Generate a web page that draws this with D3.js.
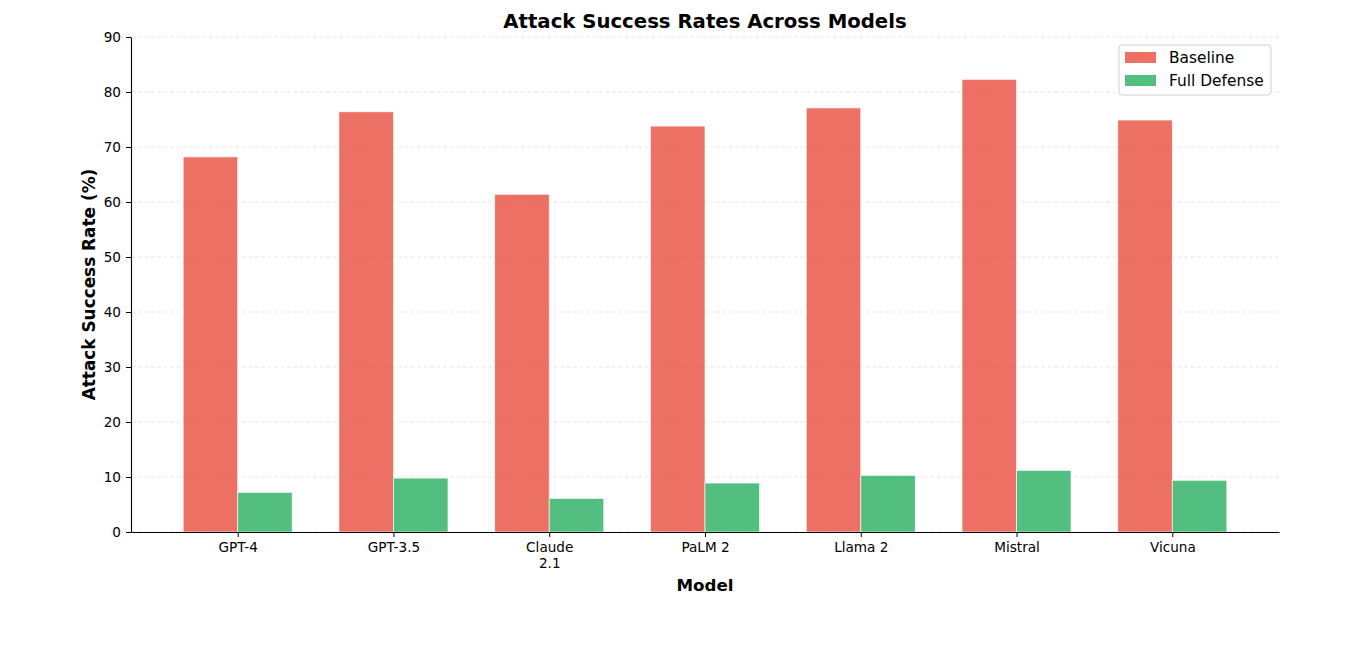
<!DOCTYPE html>
<html>
<head>
<meta charset="utf-8">
<script src="https://cdn.jsdelivr.net/npm/d3@7"></script>
<style>
  body { margin: 0; background: #fff; }
  text { font-family: "DejaVu Sans", sans-serif; }
</style>
</head>
<body>
<div id="chart-area"></div>
<script>
// values
var models = ["GPT-4", "GPT-3.5", "Claude\n2.1", "PaLM 2", "Llama 2", "Mistral", "Vicuna"];
var baseline = [68.2, 76.4, 61.4, 73.8, 77.1, 82.3, 74.9];
var fullDefense = [7.2, 9.8, 6.1, 8.9, 10.3, 11.2, 9.4];
var yTicks = [0, 10, 20, 30, 40, 50, 60, 70, 80, 90];
var seriesNames = ["Baseline", "Full Defense"];
var seriesColors = ["#E74C3C", "#27AE60"];

var W = 1368, H = 647;
var margin = { top: 37, right: 89, bottom: 115, left: 131 };
var width = W - margin.left - margin.right;
var height = H - margin.top - margin.bottom;
var barW = 0.35;

var svg = d3.select("#chart-area").append("svg")
    .attr("width", W)
    .attr("height", H);

var g = svg.append("g")
    .attr("transform", "translate(" + margin.left + "," + margin.top + ")");

// x scale (matplotlib style numeric positions with 5% margins)
var lo = -barW, hi = models.length - 1 + barW;
var pad = (hi - lo) * 0.05;
var x = d3.scaleLinear().domain([lo - pad, hi + pad]).range([0, width]);

// y scale
var y = d3.scaleLinear().domain([0, 90]).range([height, 0]);

// grid
g.append("g").selectAll("line").data(yTicks).enter()
    .append("line")
    .attr("x1", 0).attr("x2", width)
    .attr("y1", function (d) { return y(d); })
    .attr("y2", function (d) { return y(d); })
    .attr("stroke", "#b0b0b0")
    .attr("stroke-opacity", 0.3)
    .attr("stroke-dasharray", "4,2.5")
    .attr("stroke-width", 1);

// bars
var series = [baseline, fullDefense];
series.forEach(function (vals, s) {
    g.append("g").selectAll("rect").data(vals).enter()
        .append("rect")
        .attr("x", function (d, i) { return x(i - barW + s * barW); })
        .attr("y", function (d) { return y(d); })
        .attr("width", x(barW) - x(0))
        .attr("height", function (d) { return height - y(d); })
        .attr("fill", seriesColors[s])
        .attr("fill-opacity", 0.8)
        .attr("stroke", "#fff")
        .attr("stroke-opacity", 0.8)
        .attr("stroke-width", 0.8);
});

// y axis
var yAxisGroup = g.append("g").call(
    d3.axisLeft(y).tickValues(yTicks).tickSize(5).tickSizeOuter(0).tickPadding(5));
yAxisGroup.selectAll("text").style("font-size", "13.6px").attr("fill", "#000");
yAxisGroup.select(".domain").attr("stroke", "#000").attr("stroke-width", 1.1);

// x axis
var xAxisGroup = g.append("g")
    .attr("transform", "translate(0," + height + ")")
    .call(d3.axisBottom(x)
        .tickValues(d3.range(models.length))
        .tickSize(5).tickSizeOuter(0).tickPadding(5)
        .tickFormat(function (i) { return models[i]; }));
xAxisGroup.select(".domain").attr("stroke", "#000").attr("stroke-width", 1.1);
xAxisGroup.selectAll("text")
    .style("font-size", "13.6px")
    .attr("fill", "#000")
    .each(function (i) {
        var t = d3.select(this);
        var lines = models[i].split("\n");
        t.text(null);
        lines.forEach(function (ln, k) {
            t.append("tspan").attr("x", 0).attr("dy", k === 0 ? "0.71em" : "1.17em").text(ln);
        });
    });

// title and labels
svg.append("text")
    .attr("x", margin.left + width / 2).attr("y", 28)
    .attr("text-anchor", "middle")
    .style("font-size", "19.7px").style("font-weight", "bold")
    .text("Attack Success Rates Across Models");

svg.append("text")
    .attr("x", margin.left + width / 2).attr("y", 591)
    .attr("text-anchor", "middle")
    .style("font-size", "16.7px").style("font-weight", "bold")
    .text("Model");

svg.append("text")
    .attr("transform", "translate(95," + (margin.top + height / 2) + ") rotate(-90)")
    .attr("text-anchor", "middle")
    .style("font-size", "16.9px").style("font-weight", "bold")
    .text("Attack Success Rate (%)");

// legend
var legend = svg.append("g").attr("transform", "translate(1119,45)");
legend.append("rect")
    .attr("width", 152).attr("height", 50)
    .attr("rx", 3)
    .attr("fill", "#fff").attr("fill-opacity", 0.8)
    .attr("stroke", "#d0d0d0");
seriesNames.forEach(function (name, s) {
    legend.append("rect")
        .attr("x", 6).attr("y", 7 + s * 23)
        .attr("width", 31).attr("height", 11)
        .attr("fill", seriesColors[s]).attr("fill-opacity", 0.8);
    legend.append("text")
        .attr("x", 50).attr("y", 18 + s * 23)
        .style("font-size", "15.4px")
        .text(name);
});
</script>
</body>
</html>
